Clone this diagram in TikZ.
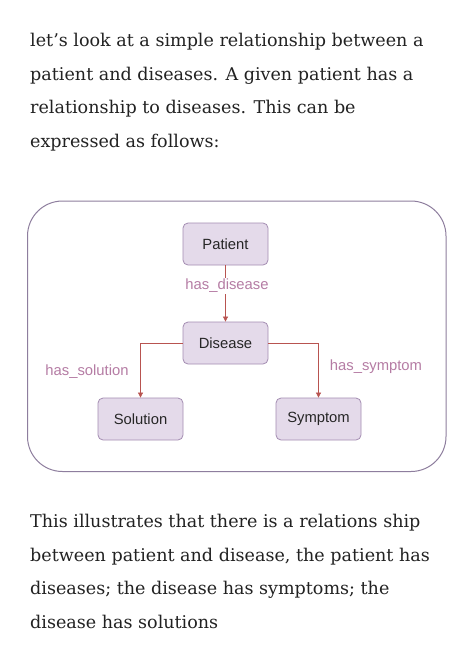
\documentclass[tikz,border=0pt]{standalone}
\usepackage{fontspec}
\setmainfont{DejaVu Serif}
\newfontfamily\diagfont{Liberation Sans}
\usetikzlibrary{arrows.meta}
\definecolor{nodefill}{HTML}{E4DAEA}
\definecolor{nodedraw}{HTML}{A48DB2}
\definecolor{framecol}{HTML}{8E7E9E}
\definecolor{arrowcol}{HTML}{B85450}
\definecolor{labelcol}{HTML}{B57CA4}
\definecolor{textcol}{HTML}{222222}
\tikzset{
  para/.style={anchor=base west, inner sep=0pt, text=textcol, font=\fontsize{17.55pt}{21pt}\selectfont},
  entity/.style={draw=nodedraw, fill=nodefill, rounded corners=5pt, minimum width=85pt, minimum height=42pt, inner sep=0pt, font=\diagfont\fontsize{14.8pt}{17pt}\selectfont, text=black!85, line width=0.8pt},
  rel/.style={draw=arrowcol, line width=0.7pt, -{Triangle[width=5pt,length=5pt]}},
  rellabel/.style={text=labelcol, font=\diagfont\fontsize{14.8pt}{17pt}\selectfont, inner sep=1pt, fill=white},
}
\begin{document}
\begin{tikzpicture}[x=1pt,y=-1pt]
\useasboundingbox (0,0) rectangle (474,649);
\fill[white] (0,0) rectangle (474,649);
\node[para] (t1) at (30,46) {let’s look at a simple relationship between a};
\node[para] (t2) at (30,80) {patient and diseases. A given patient has a};
\node[para] (t3) at (30,113.5) {relationship to diseases. This can be};
\node[para] (t4) at (30,147) {expressed as follows:};
\draw[framecol, line width=1pt, rounded corners=35pt] (27.5,201) rectangle (446,471.5);
\node[entity] (patient) at (225.5,244) {Patient};
\node[entity] (disease) at (225.5,343) {Disease};
\node[entity] (solution) at (140.5,419) {Solution};
\node[entity] (symptom) at (318.5,419) {Symptom};
\draw[rel] (patient) -- (disease);
\node[rellabel] (l1) at (227,286) {has\_disease};
\draw[rel] (disease.west) -| (solution.north);
\draw[rel] (disease.east) -| (symptom.north);
\node[rellabel, fill=none] (l2) at (87,372) {has\_solution};
\node[rellabel, fill=none] (l3) at (376,367) {has\_symptom};
\node[para] (b1) at (30,527.3) {This illustrates that there is a relations ship};
\node[para] (b2) at (30,561) {between patient and disease, the patient has};
\node[para] (b3) at (30,594.5) {diseases; the disease has symptoms; the};
\node[para] (b4) at (30,628) {disease has solutions};
\end{tikzpicture}
\end{document}
